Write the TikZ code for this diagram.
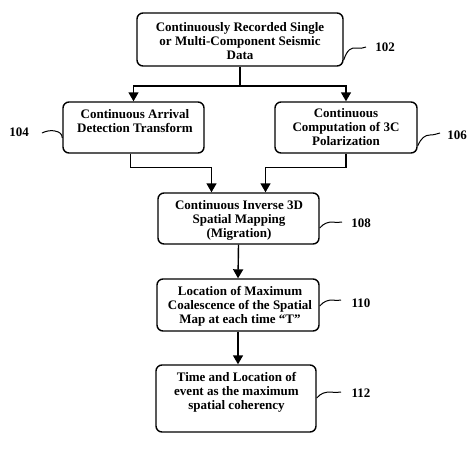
\documentclass[tikz,border=0pt]{standalone}
\usepackage{fontspec}
\setmainfont{Liberation Serif}
\usetikzlibrary{arrows.meta,calc}
\begin{document}
\begin{tikzpicture}[x=1pt,y=-1pt,
  box/.style={draw,line width=1.4pt,rounded corners=6pt,inner sep=0pt},
  txt/.style={align=center,inner sep=0pt,font=\fontsize{13}{14}\selectfont\bfseries},
  lbl/.style={inner sep=0pt,font=\fontsize{13}{14}\selectfont\bfseries},
  conn/.style={line width=1.4pt},
  arr/.style={line width=1.4pt,-{Triangle[width=10pt,length=9pt]}},
  sq/.style={line width=1pt}]
\useasboundingbox (0,0) rectangle (474,459);
% boxes
\node[box,minimum width=206pt,minimum height=53pt] (b102) at (240,39.5) {};
\node[box,minimum width=141pt,minimum height=51pt] (b104) at (133.5,127.5) {};
\node[box,minimum width=142pt,minimum height=51pt] (b106) at (346,127.5) {};
\node[box,minimum width=161pt,minimum height=51pt] (b108) at (238.5,218.5) {};
\node[box,minimum width=162pt,minimum height=52pt] (b110) at (238,305) {};
\node[box,minimum width=160pt,minimum height=67pt] (b112) at (236,398.5) {};
% texts
\node[txt] (t102) at (240,41) {Continuously Recorded Single\\or Multi-Component Seismic\\Data};
\node[txt] (t104) at (135,121.5) {Continuous Arrival\\Detection Transform};
\node[txt] (t106) at (346,127.5) {Continuous\\Computation of 3C\\Polarization};
\node[txt] (t108) at (239,220) {Continuous Inverse 3D\\Spatial Mapping\\(Migration)};
\node[txt] (t110) at (240,306) {Location of Maximum\\Coalescence of the Spatial\\Map at each time “T”};
\node[txt] (t112) at (236.5,392) {Time and Location of\\event as the maximum\\spatial coherency};
% reference numerals
\node[lbl] (l102) at (385,47) {102};
\node[lbl] (l104) at (19,132) {104};
\node[lbl] (l106) at (457,135) {106};
\node[lbl] (l108) at (361,223) {108};
\node[lbl] (l110) at (361,303) {110};
\node[lbl] (l112) at (361,393) {112};
% leader squiggles
\draw[sq] (b102.east |- 0,60) .. controls (347,50) and (351,47) .. (357,48) .. controls (360,49) and (362,48) .. (366,47);
\draw[sq] (42,133) .. controls (46,131) and (51,130) .. (55,131) .. controls (60,132) and (62,134) .. (b104.west |- 0,138);
\draw[sq] (b106.east |- 0,146) .. controls (421,138) and (425,135) .. (430,135) .. controls (434,135) and (436,134) .. (440,133);
\draw[sq] (b108.east |- 0,228) .. controls (324,223) and (328,222) .. (333,222) .. controls (337,223) and (339,222) .. (342,222);
\draw[sq] (b110.east |- 0,306) .. controls (324,301) and (328,300) .. (333,300) .. controls (337,301) and (339,300) .. (341,300);
\draw[sq] (b112.east |- 0,398) .. controls (321,393) and (325,392) .. (331,392) .. controls (336,393) and (338,392) .. (341,392);
% connectors
\coordinate (j1) at (240,86);
\draw[conn] (b102.south) -- (j1);
\draw[arr] (j1) -| (b104.north);
\draw[arr] (j1) -| (b106.north);
\coordinate (e1) at ($(b108.north)+(-27,0)$);
\coordinate (e2) at ($(b108.north)+(27,0)$);
\draw[arr] ($(b104.south)+(-3,0)$) |- ($(e1)+(0,-25)$) -- (e1);
\draw[arr] (b106.south) |- ($(e2)+(0,-25)$) -- (e2);
\draw[arr] (b108.south) -- (b110.north);
\draw[arr] (b110.south) -- (b110.south |- b112.north);
\end{tikzpicture}
\end{document}
